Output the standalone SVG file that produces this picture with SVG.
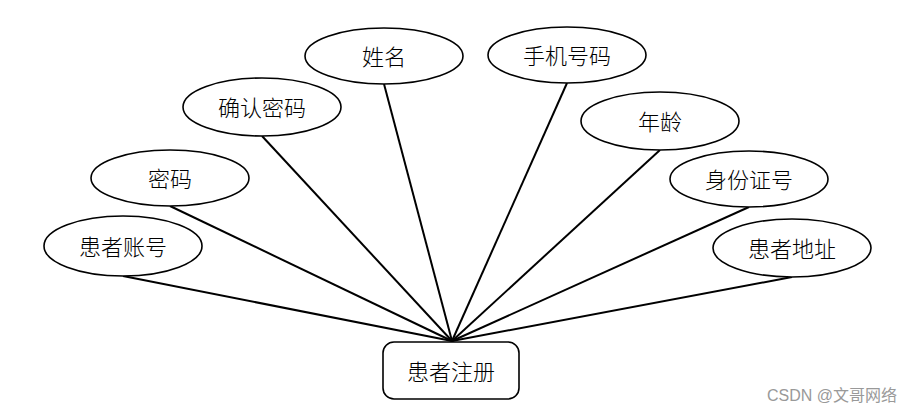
<svg xmlns="http://www.w3.org/2000/svg" width="912" height="413" viewBox="0 0 912 413">
<style>
.n{fill:#fff;stroke:#000;stroke-width:1.6}
.t{font-family:"Noto Sans CJK SC","Noto Sans",sans-serif;font-size:22px;font-weight:300;fill:#000;text-anchor:middle;dominant-baseline:central}
.e line{stroke:#000;stroke-width:2}
.w{font-family:"Liberation Sans","Noto Sans CJK SC",sans-serif;font-size:16px;fill:#999;text-anchor:end}
</style>
<rect width="912" height="413" fill="#fff"/>
<g id="edges" class="e">
<line x1="123" y1="276" x2="452" y2="341"/>
<line x1="170" y1="206" x2="452" y2="341"/>
<line x1="262" y1="136" x2="452" y2="341"/>
<line x1="384" y1="84" x2="452" y2="341"/>
<line x1="567" y1="83" x2="452" y2="341"/>
<line x1="660" y1="150" x2="452" y2="341"/>
<line x1="749" y1="207" x2="452" y2="341"/>
<line x1="792" y1="277" x2="452" y2="341"/>
</g>
<g id="n0"><rect class="n" x="383" y="342" width="136" height="57" rx="11"/><text class="t" x="451" y="370">患者注册</text></g>
<g id="n1"><ellipse class="n" cx="123" cy="246" rx="79" ry="30"/><text class="t" x="123" y="245">患者账号</text></g>
<g id="n2"><ellipse class="n" cx="170" cy="178" rx="79" ry="28"/><text class="t" x="170" y="177">密码</text></g>
<g id="n3"><ellipse class="n" cx="262" cy="107" rx="79" ry="29"/><text class="t" x="262" y="106">确认密码</text></g>
<g id="n4"><ellipse class="n" cx="384" cy="56" rx="79" ry="28"/><text class="t" x="384" y="55">姓名</text></g>
<g id="n5"><ellipse class="n" cx="567" cy="55" rx="79" ry="28"/><text class="t" x="567" y="54">手机号码</text></g>
<g id="n6"><ellipse class="n" cx="660" cy="121" rx="79" ry="29"/><text class="t" x="660" y="120">年龄</text></g>
<g id="n7"><ellipse class="n" cx="749" cy="179" rx="79" ry="28"/><text class="t" x="749" y="178">身份证号</text></g>
<g id="n8"><ellipse class="n" cx="792" cy="248" rx="79" ry="29"/><text class="t" x="792" y="247">患者地址</text></g>
<text class="w" x="897" y="401">CSDN @文哥网络</text>
</svg>
